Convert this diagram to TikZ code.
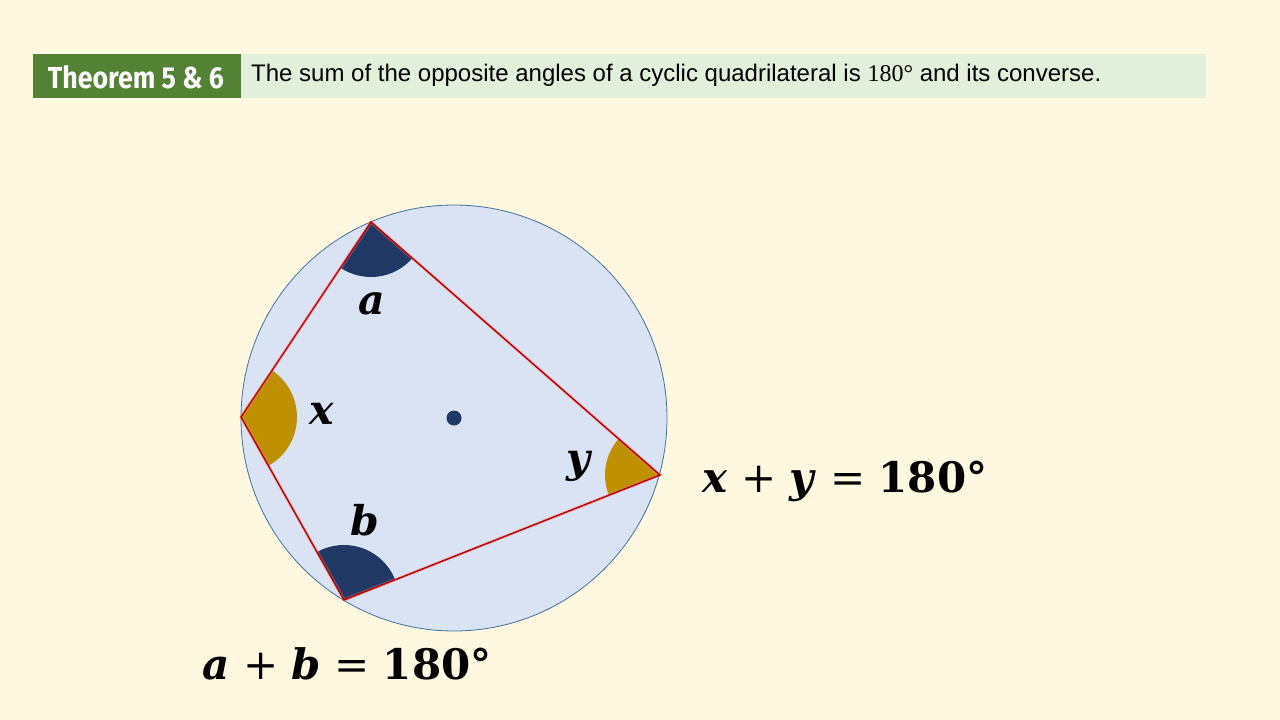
\documentclass[tikz,border=0pt]{standalone}
\usepackage{fontspec}
\setmainfont{Liberation Sans}
\newfontfamily\headfont{Fira Sans}
\newfontfamily\eqfont{DejaVu Serif}
\newfontfamily\numfont{Liberation Serif}
\usepackage{graphicx}
\definecolor{bgc}{HTML}{FFF8E1}
\definecolor{hgreen}{HTML}{548235}
\definecolor{lgreen}{HTML}{E2EFDA}
\definecolor{circfill}{HTML}{DAE3F3}
\definecolor{circline}{HTML}{41719C}
\definecolor{navy}{HTML}{203864}
\definecolor{gold}{HTML}{BF9000}
\definecolor{redline}{HTML}{C00000}
\newcommand{\bv}[1]{\textbf{\textit{#1}}}
\tikzset{
  lbl/.style={font=\eqfont\fontsize{41}{46}\selectfont, inner sep=0pt},
  eqn/.style={font=\eqfont\fontsize{42}{48}\selectfont, inner sep=0pt},
}
\begin{document}
\begin{tikzpicture}[x={(1pt,0)},y={(0,-1pt)}]
\useasboundingbox (0,0) rectangle (1280,720);
\fill[bgc] (0,0) rectangle (1280,720);
% header
\fill[hgreen] (33,54) rectangle (241,98);
\fill[lgreen] (241,54) rectangle (1206,98);
\node[inner sep=0pt, text=white] (hd) at (136,77) {\resizebox{176pt}{23pt}{\headfont\bfseries Theorem 5 \& 6}};
\node[inner sep=0pt, anchor=west, font=\fontsize{24}{28}\selectfont] (desc) at (251,75) {The sum of the opposite angles of a cyclic quadrilateral is {\numfont 180°} and its converse.};
% circle
\coordinate (O) at (454,418);
\draw[circline, fill=circfill, line width=0.8pt] (O) circle (213);
\coordinate (A) at (371,222);
\coordinate (X) at (241,417);
\coordinate (B) at (344,600);
\coordinate (Y) at (660,475);
\begin{scope}
\clip (A) -- (Y) -- (B) -- (X) -- cycle;
\fill[navy] (A) circle (55);
\fill[navy] (B) circle (55);
\fill[gold] (X) circle (56);
\fill[gold] (Y) circle (55);
\end{scope}
\draw[redline!40, line width=3.5pt, opacity=0.35, line join=round] (A) -- (Y) -- (B) -- (X) -- cycle;
\draw[redline, line width=1.5pt, line join=miter] (A) -- (Y) -- (B) -- (X) -- cycle;
\fill[navy] (O) circle (7.5);
% labels
\node[lbl] (la) at (372,304) {\bv{a}};
\node[lbl] (lx) at (322,414) {\bv{x}};
\node[lbl] (ly) at (580,466) {\bv{y}};
\node[lbl] (lb) at (365,520) {\bv{b}};
\node[eqn] (e1) at (845,481) {\bv{x} + \bv{y} = \textbf{180°}};
\node[eqn] (e2) at (347,664) {\bv{a} + \bv{b} = \textbf{180°}};
\end{tikzpicture}
\end{document}
